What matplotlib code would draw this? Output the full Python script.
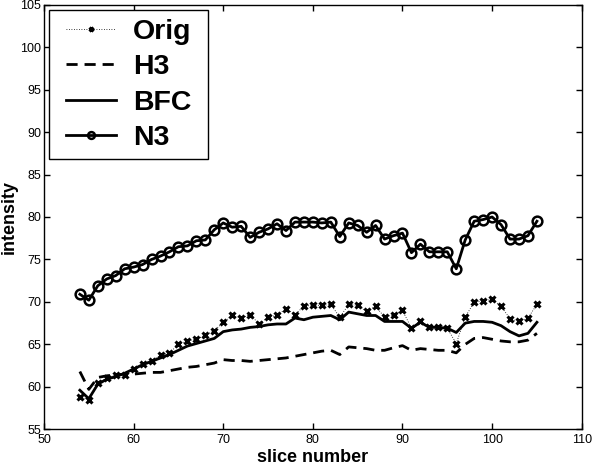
import matplotlib
matplotlib.use("Agg")
import matplotlib.pyplot as plt
from matplotlib.path import Path
import numpy as np

slices = list(range(54, 106))

orig = [58.8, 58.5, 60.5, 61.0, 61.4, 61.4, 62.1, 62.7, 63.1, 63.7,
        64.0, 65.0, 65.4, 65.6, 66.1, 66.6, 67.6, 68.4, 68.1, 68.5,
        67.4, 68.2, 68.4, 69.2, 68.5, 69.5, 69.6, 69.6, 69.7, 68.2,
        69.7, 69.6, 68.9, 69.5, 68.2, 68.5, 69.0, 66.9, 67.7, 67.0,
        67.0, 66.9, 65.1, 68.2, 70.0, 70.1, 70.3, 69.5, 68.0, 67.7,
        68.1, 69.7]

h3 = [61.8, 59.7, 61.1, 61.3, 61.4, 61.5, 61.5, 61.6, 61.7, 61.7,
      61.9, 62.1, 62.3, 62.4, 62.6, 62.8, 63.2, 63.1, 63.1, 63.0,
      63.1, 63.2, 63.3, 63.4, 63.6, 63.8, 64.0, 64.2, 64.3, 63.8,
      64.7, 64.6, 64.5, 64.3, 64.3, 64.6, 64.85, 64.3, 64.5, 64.4,
      64.3, 64.3, 64.0, 65.0, 65.7, 65.8, 65.6, 65.4, 65.3, 65.3,
      65.5, 66.3]

bfc = [59.6, 58.6, 60.3, 60.9, 61.2, 61.6, 62.1, 62.6, 63.0, 63.4,
       63.8, 64.3, 64.8, 65.1, 65.4, 65.7, 66.5, 66.7, 66.8, 67.0,
       67.1, 67.3, 67.4, 67.4, 68.1, 67.9, 68.2, 68.3, 68.4, 67.9,
       68.8, 68.6, 68.4, 68.4, 67.7, 67.7, 67.7, 66.9, 67.6, 67.0,
       67.0, 66.9, 66.4, 67.5, 67.7, 67.7, 67.6, 67.2, 66.5, 66.0,
       66.3, 67.6]

n3 = [70.9, 70.2, 71.9, 72.7, 73.1, 73.9, 74.1, 74.4, 75.0, 75.4,
      75.9, 76.5, 76.6, 77.2, 77.3, 78.5, 79.3, 78.8, 78.9, 77.6,
      78.2, 78.6, 79.2, 78.4, 79.4, 79.4, 79.4, 79.3, 79.4, 77.7,
      79.3, 79.0, 78.2, 79.0, 77.4, 77.8, 78.1, 75.8, 76.8, 75.9,
      75.9, 75.9, 73.9, 77.3, 79.5, 79.7, 80.0, 79.1, 77.4, 77.4,
      77.8, 79.5]

plt.rcParams["font.family"] = ["Liberation Sans", "DejaVu Sans"]


def wide_box(x0, y0, width, height, mutation_size):
    # legend frame with extra room left and right only
    px = 0.3 * mutation_size
    x0, x1 = x0 - px, x0 + width + px
    y1 = y0 + height
    return Path([(x0, y0), (x1, y0), (x1, y1), (x0, y1), (x0, y0)],
                closed=True)


fig = plt.figure(figsize=(5.93, 4.65), dpi=100)
ax = fig.add_axes([0.0742, 0.0768, 0.9068, 0.9131])

ax.plot(slices, orig, color="black", linestyle=(0, (1, 2)), linewidth=0.6,
        marker="x", markersize=5, markeredgewidth=2.2, label="Orig")
ax.plot(slices, h3, color="black", linestyle=(0, (4, 2.5)), linewidth=2,
        label="H3")
ax.plot(slices, bfc, color="black", linestyle="-", linewidth=2, label="BFC")
ax.plot(slices, n3, color="black", linestyle="-", linewidth=2,
        marker="o", markersize=7, markerfacecolor="none",
        markeredgewidth=1.8, label="N3")

ax.set_xlim(50, 110)
ax.set_ylim(55, 105)
ax.set_xticks(np.arange(50, 111, 10))
ax.set_yticks(np.arange(55, 106, 5))
ax.tick_params(axis="both", which="major", direction="in", length=4,
               width=1, top=True, right=True, labelsize=9)
ax.tick_params(axis="x", pad=3.5)
ax.tick_params(axis="y", pad=2)
for spine in ax.spines.values():
    spine.set_linewidth(1)

ax.set_xlabel("slice number", fontsize=13, fontweight="bold", labelpad=2)
ax.set_ylabel("intensity", fontsize=13, fontweight="bold", labelpad=2)

leg = ax.legend(
    loc="upper left",
    bbox_to_anchor=(0.0245, 0.987),
    borderaxespad=0,
    frameon=True,
    fancybox=False,
    edgecolor="black",
    framealpha=1.0,
    prop={"size": 20.5, "weight": "bold"},
    labelspacing=0.33,
    handlelength=1.75,
    handletextpad=0.6,
    borderpad=0.3,
    markerscale=0.7,
)
leg.get_frame().set_linewidth(1)
leg.get_frame().set_boxstyle(wide_box)

fig.savefig("out.png", dpi=100)
